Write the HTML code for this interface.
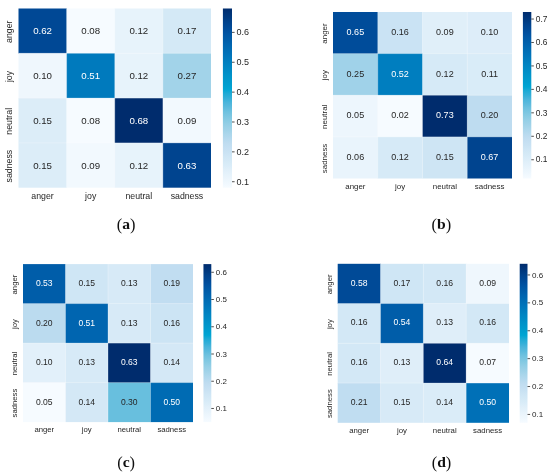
<!DOCTYPE html>
<html><head><meta charset="utf-8"><title>Confusion matrices</title>
<style>html,body{margin:0;padding:0;background:#fff}svg{display:block}.s{font-family:"Liberation Sans",Arial,sans-serif}.c{font-family:"Liberation Serif","Times New Roman",serif}</style></head><body>
<svg width="550" height="474" viewBox="0 0 550 474">
<rect width="550" height="474" fill="#ffffff"/>
<defs>
<linearGradient id="ga" x1="0" y1="0" x2="0" y2="1"><stop offset="0.0000" stop-color="#002c6d"/><stop offset="0.0250" stop-color="#003377"/><stop offset="0.0500" stop-color="#003a80"/><stop offset="0.0750" stop-color="#00428c"/><stop offset="0.1000" stop-color="#004895"/><stop offset="0.1250" stop-color="#004f9e"/><stop offset="0.1500" stop-color="#0057a5"/><stop offset="0.1750" stop-color="#005da9"/><stop offset="0.2000" stop-color="#0064af"/><stop offset="0.2250" stop-color="#006bb3"/><stop offset="0.2500" stop-color="#0071b8"/><stop offset="0.2750" stop-color="#0078bc"/><stop offset="0.3000" stop-color="#007fbf"/><stop offset="0.3250" stop-color="#0086c3"/><stop offset="0.3500" stop-color="#008cc6"/><stop offset="0.3750" stop-color="#0093c9"/><stop offset="0.4000" stop-color="#0099cc"/><stop offset="0.4250" stop-color="#009ecf"/><stop offset="0.4500" stop-color="#00a5d3"/><stop offset="0.4750" stop-color="#1faad5"/><stop offset="0.5000" stop-color="#33afd8"/><stop offset="0.5250" stop-color="#4bb5db"/><stop offset="0.5500" stop-color="#5bbadd"/><stop offset="0.5750" stop-color="#6dc1df"/><stop offset="0.6000" stop-color="#7bc6e1"/><stop offset="0.6250" stop-color="#88cbe3"/><stop offset="0.6500" stop-color="#95cfe6"/><stop offset="0.6750" stop-color="#9fd2e8"/><stop offset="0.7000" stop-color="#aad6eb"/><stop offset="0.7250" stop-color="#b4d9ee"/><stop offset="0.7500" stop-color="#bedcf0"/><stop offset="0.7750" stop-color="#c4dff2"/><stop offset="0.8000" stop-color="#c9e2f3"/><stop offset="0.8250" stop-color="#cfe6f5"/><stop offset="0.8500" stop-color="#d4e9f6"/><stop offset="0.8750" stop-color="#d9ecf8"/><stop offset="0.9000" stop-color="#e0eff9"/><stop offset="0.9250" stop-color="#e5f2fb"/><stop offset="0.9500" stop-color="#ebf5fc"/><stop offset="0.9750" stop-color="#f0f8fe"/><stop offset="1.0000" stop-color="#f6fbff"/></linearGradient>
<linearGradient id="gb" x1="0" y1="0" x2="0" y2="1"><stop offset="0.0000" stop-color="#002c6d"/><stop offset="0.0250" stop-color="#003377"/><stop offset="0.0500" stop-color="#003a80"/><stop offset="0.0750" stop-color="#00428c"/><stop offset="0.1000" stop-color="#004895"/><stop offset="0.1250" stop-color="#004f9e"/><stop offset="0.1500" stop-color="#0057a5"/><stop offset="0.1750" stop-color="#005da9"/><stop offset="0.2000" stop-color="#0064af"/><stop offset="0.2250" stop-color="#006bb3"/><stop offset="0.2500" stop-color="#0071b8"/><stop offset="0.2750" stop-color="#0078bc"/><stop offset="0.3000" stop-color="#007fbf"/><stop offset="0.3250" stop-color="#0086c3"/><stop offset="0.3500" stop-color="#008cc6"/><stop offset="0.3750" stop-color="#0093c9"/><stop offset="0.4000" stop-color="#0099cc"/><stop offset="0.4250" stop-color="#009ecf"/><stop offset="0.4500" stop-color="#00a5d3"/><stop offset="0.4750" stop-color="#1faad5"/><stop offset="0.5000" stop-color="#33afd8"/><stop offset="0.5250" stop-color="#4bb5db"/><stop offset="0.5500" stop-color="#5bbadd"/><stop offset="0.5750" stop-color="#6dc1df"/><stop offset="0.6000" stop-color="#7bc6e1"/><stop offset="0.6250" stop-color="#88cbe3"/><stop offset="0.6500" stop-color="#95cfe6"/><stop offset="0.6750" stop-color="#9fd2e8"/><stop offset="0.7000" stop-color="#aad6eb"/><stop offset="0.7250" stop-color="#b4d9ee"/><stop offset="0.7500" stop-color="#bedcf0"/><stop offset="0.7750" stop-color="#c4dff2"/><stop offset="0.8000" stop-color="#c9e2f3"/><stop offset="0.8250" stop-color="#cfe6f5"/><stop offset="0.8500" stop-color="#d4e9f6"/><stop offset="0.8750" stop-color="#d9ecf8"/><stop offset="0.9000" stop-color="#e0eff9"/><stop offset="0.9250" stop-color="#e5f2fb"/><stop offset="0.9500" stop-color="#ebf5fc"/><stop offset="0.9750" stop-color="#f0f8fe"/><stop offset="1.0000" stop-color="#f6fbff"/></linearGradient>
<linearGradient id="gc" x1="0" y1="0" x2="0" y2="1"><stop offset="0.0000" stop-color="#002c6d"/><stop offset="0.0250" stop-color="#003377"/><stop offset="0.0500" stop-color="#003a80"/><stop offset="0.0750" stop-color="#00428c"/><stop offset="0.1000" stop-color="#004895"/><stop offset="0.1250" stop-color="#004f9e"/><stop offset="0.1500" stop-color="#0057a5"/><stop offset="0.1750" stop-color="#005da9"/><stop offset="0.2000" stop-color="#0064af"/><stop offset="0.2250" stop-color="#006bb3"/><stop offset="0.2500" stop-color="#0071b8"/><stop offset="0.2750" stop-color="#0078bc"/><stop offset="0.3000" stop-color="#007fbf"/><stop offset="0.3250" stop-color="#0086c3"/><stop offset="0.3500" stop-color="#008cc6"/><stop offset="0.3750" stop-color="#0093c9"/><stop offset="0.4000" stop-color="#0099cc"/><stop offset="0.4250" stop-color="#009ecf"/><stop offset="0.4500" stop-color="#00a5d3"/><stop offset="0.4750" stop-color="#1faad5"/><stop offset="0.5000" stop-color="#33afd8"/><stop offset="0.5250" stop-color="#4bb5db"/><stop offset="0.5500" stop-color="#5bbadd"/><stop offset="0.5750" stop-color="#6dc1df"/><stop offset="0.6000" stop-color="#7bc6e1"/><stop offset="0.6250" stop-color="#88cbe3"/><stop offset="0.6500" stop-color="#95cfe6"/><stop offset="0.6750" stop-color="#9fd2e8"/><stop offset="0.7000" stop-color="#aad6eb"/><stop offset="0.7250" stop-color="#b4d9ee"/><stop offset="0.7500" stop-color="#bedcf0"/><stop offset="0.7750" stop-color="#c4dff2"/><stop offset="0.8000" stop-color="#c9e2f3"/><stop offset="0.8250" stop-color="#cfe6f5"/><stop offset="0.8500" stop-color="#d4e9f6"/><stop offset="0.8750" stop-color="#d9ecf8"/><stop offset="0.9000" stop-color="#e0eff9"/><stop offset="0.9250" stop-color="#e5f2fb"/><stop offset="0.9500" stop-color="#ebf5fc"/><stop offset="0.9750" stop-color="#f0f8fe"/><stop offset="1.0000" stop-color="#f6fbff"/></linearGradient>
<linearGradient id="gd" x1="0" y1="0" x2="0" y2="1"><stop offset="0.0000" stop-color="#002c6d"/><stop offset="0.0250" stop-color="#003377"/><stop offset="0.0500" stop-color="#003a80"/><stop offset="0.0750" stop-color="#00428c"/><stop offset="0.1000" stop-color="#004895"/><stop offset="0.1250" stop-color="#004f9e"/><stop offset="0.1500" stop-color="#0057a5"/><stop offset="0.1750" stop-color="#005da9"/><stop offset="0.2000" stop-color="#0064af"/><stop offset="0.2250" stop-color="#006bb3"/><stop offset="0.2500" stop-color="#0071b8"/><stop offset="0.2750" stop-color="#0078bc"/><stop offset="0.3000" stop-color="#007fbf"/><stop offset="0.3250" stop-color="#0086c3"/><stop offset="0.3500" stop-color="#008cc6"/><stop offset="0.3750" stop-color="#0093c9"/><stop offset="0.4000" stop-color="#0099cc"/><stop offset="0.4250" stop-color="#009ecf"/><stop offset="0.4500" stop-color="#00a5d3"/><stop offset="0.4750" stop-color="#1faad5"/><stop offset="0.5000" stop-color="#33afd8"/><stop offset="0.5250" stop-color="#4bb5db"/><stop offset="0.5500" stop-color="#5bbadd"/><stop offset="0.5750" stop-color="#6dc1df"/><stop offset="0.6000" stop-color="#7bc6e1"/><stop offset="0.6250" stop-color="#88cbe3"/><stop offset="0.6500" stop-color="#95cfe6"/><stop offset="0.6750" stop-color="#9fd2e8"/><stop offset="0.7000" stop-color="#aad6eb"/><stop offset="0.7250" stop-color="#b4d9ee"/><stop offset="0.7500" stop-color="#bedcf0"/><stop offset="0.7750" stop-color="#c4dff2"/><stop offset="0.8000" stop-color="#c9e2f3"/><stop offset="0.8250" stop-color="#cfe6f5"/><stop offset="0.8500" stop-color="#d4e9f6"/><stop offset="0.8750" stop-color="#d9ecf8"/><stop offset="0.9000" stop-color="#e0eff9"/><stop offset="0.9250" stop-color="#e5f2fb"/><stop offset="0.9500" stop-color="#ebf5fc"/><stop offset="0.9750" stop-color="#f0f8fe"/><stop offset="1.0000" stop-color="#f6fbff"/></linearGradient>
</defs>
<g class="s">
<rect x="18.50" y="8.50" width="48.42" height="45.10" fill="#004895"/>
<rect x="66.62" y="8.50" width="48.42" height="45.10" fill="#f6fbff"/>
<rect x="114.75" y="8.50" width="48.42" height="45.10" fill="#e7f3fb"/>
<rect x="162.88" y="8.50" width="48.12" height="45.10" fill="#d4e9f6"/>
<rect x="18.50" y="53.30" width="48.42" height="45.10" fill="#eff7fd"/>
<rect x="66.62" y="53.30" width="48.42" height="45.10" fill="#007abd"/>
<rect x="114.75" y="53.30" width="48.42" height="45.10" fill="#e7f3fb"/>
<rect x="162.88" y="53.30" width="48.12" height="45.10" fill="#a2d3e9"/>
<rect x="18.50" y="98.10" width="48.42" height="45.10" fill="#dcedf8"/>
<rect x="66.62" y="98.10" width="48.42" height="45.10" fill="#f6fbff"/>
<rect x="114.75" y="98.10" width="48.42" height="45.10" fill="#002c6d"/>
<rect x="162.88" y="98.10" width="48.12" height="45.10" fill="#f2f9fe"/>
<rect x="18.50" y="142.90" width="48.42" height="44.80" fill="#dcedf8"/>
<rect x="66.62" y="142.90" width="48.42" height="44.80" fill="#f2f9fe"/>
<rect x="114.75" y="142.90" width="48.42" height="44.80" fill="#e7f3fb"/>
<rect x="162.88" y="142.90" width="48.12" height="44.80" fill="#00448f"/>
<text x="42.56" y="34.10" font-size="9.7" text-anchor="middle" fill="#ffffff">0.62</text>
<text x="90.69" y="34.10" font-size="9.7" text-anchor="middle" fill="#262626">0.08</text>
<text x="138.81" y="34.10" font-size="9.7" text-anchor="middle" fill="#262626">0.12</text>
<text x="186.94" y="34.10" font-size="9.7" text-anchor="middle" fill="#262626">0.17</text>
<text x="42.56" y="78.90" font-size="9.7" text-anchor="middle" fill="#262626">0.10</text>
<text x="90.69" y="78.90" font-size="9.7" text-anchor="middle" fill="#ffffff">0.51</text>
<text x="138.81" y="78.90" font-size="9.7" text-anchor="middle" fill="#262626">0.12</text>
<text x="186.94" y="78.90" font-size="9.7" text-anchor="middle" fill="#262626">0.27</text>
<text x="42.56" y="123.70" font-size="9.7" text-anchor="middle" fill="#262626">0.15</text>
<text x="90.69" y="123.70" font-size="9.7" text-anchor="middle" fill="#262626">0.08</text>
<text x="138.81" y="123.70" font-size="9.7" text-anchor="middle" fill="#ffffff">0.68</text>
<text x="186.94" y="123.70" font-size="9.7" text-anchor="middle" fill="#262626">0.09</text>
<text x="42.56" y="168.50" font-size="9.7" text-anchor="middle" fill="#262626">0.15</text>
<text x="90.69" y="168.50" font-size="9.7" text-anchor="middle" fill="#262626">0.09</text>
<text x="138.81" y="168.50" font-size="9.7" text-anchor="middle" fill="#262626">0.12</text>
<text x="186.94" y="168.50" font-size="9.7" text-anchor="middle" fill="#ffffff">0.63</text>
<line x1="66.62" y1="8.50" x2="66.62" y2="187.70" stroke="#fff" stroke-opacity="0.45" stroke-width="0.6"/>
<line x1="18.50" y1="53.30" x2="211.00" y2="53.30" stroke="#fff" stroke-opacity="0.45" stroke-width="0.6"/>
<line x1="114.75" y1="8.50" x2="114.75" y2="187.70" stroke="#fff" stroke-opacity="0.45" stroke-width="0.6"/>
<line x1="18.50" y1="98.10" x2="211.00" y2="98.10" stroke="#fff" stroke-opacity="0.45" stroke-width="0.6"/>
<line x1="162.88" y1="8.50" x2="162.88" y2="187.70" stroke="#fff" stroke-opacity="0.45" stroke-width="0.6"/>
<line x1="18.50" y1="142.90" x2="211.00" y2="142.90" stroke="#fff" stroke-opacity="0.45" stroke-width="0.6"/>
<text x="42.56" y="199.00" font-size="8.75" text-anchor="middle" fill="#262626">anger</text>
<text x="90.69" y="199.00" font-size="8.75" text-anchor="middle" fill="#262626">joy</text>
<text x="138.81" y="199.00" font-size="8.75" text-anchor="middle" fill="#262626">neutral</text>
<text x="186.94" y="199.00" font-size="8.75" text-anchor="middle" fill="#262626">sadness</text>
<text transform="translate(12.00 31.70) rotate(-90)" font-size="8.75" text-anchor="middle" fill="#262626">anger</text>
<text transform="translate(12.00 76.50) rotate(-90)" font-size="8.75" text-anchor="middle" fill="#262626">joy</text>
<text transform="translate(12.00 121.30) rotate(-90)" font-size="8.75" text-anchor="middle" fill="#262626">neutral</text>
<text transform="translate(12.00 166.10) rotate(-90)" font-size="8.75" text-anchor="middle" fill="#262626">sadness</text>
<rect x="222.90" y="8.50" width="9.10" height="179.20" fill="url(#ga)"/>
<line x1="232.00" y1="181.73" x2="234.60" y2="181.73" stroke="#262626" stroke-width="0.8"/>
<text x="236.50" y="184.65" font-size="9.0" fill="#262626">0.1</text>
<line x1="232.00" y1="151.86" x2="234.60" y2="151.86" stroke="#262626" stroke-width="0.8"/>
<text x="236.50" y="154.78" font-size="9.0" fill="#262626">0.2</text>
<line x1="232.00" y1="121.99" x2="234.60" y2="121.99" stroke="#262626" stroke-width="0.8"/>
<text x="236.50" y="124.92" font-size="9.0" fill="#262626">0.3</text>
<line x1="232.00" y1="92.13" x2="234.60" y2="92.13" stroke="#262626" stroke-width="0.8"/>
<text x="236.50" y="95.05" font-size="9.0" fill="#262626">0.4</text>
<line x1="232.00" y1="62.26" x2="234.60" y2="62.26" stroke="#262626" stroke-width="0.8"/>
<text x="236.50" y="65.18" font-size="9.0" fill="#262626">0.5</text>
<line x1="232.00" y1="32.39" x2="234.60" y2="32.39" stroke="#262626" stroke-width="0.8"/>
<text x="236.50" y="35.32" font-size="9.0" fill="#262626">0.6</text>
</g>
<text class="c" x="126.20" y="229.00" font-size="16.4" text-anchor="middle" fill="#111"><tspan dy="0.5">(</tspan><tspan font-weight="bold" font-size="15.6" dy="-0.5">a</tspan><tspan dy="0.5">)</tspan></text>
<g class="s">
<rect x="333.00" y="12.00" width="45.05" height="41.92" fill="#004c9a"/>
<rect x="377.75" y="12.00" width="45.05" height="41.92" fill="#cae3f4"/>
<rect x="422.50" y="12.00" width="45.05" height="41.92" fill="#e0eff9"/>
<rect x="467.25" y="12.00" width="44.75" height="41.92" fill="#ddedf9"/>
<rect x="333.00" y="53.62" width="45.05" height="41.92" fill="#a0d2e9"/>
<rect x="377.75" y="53.62" width="45.05" height="41.92" fill="#007ebf"/>
<rect x="422.50" y="53.62" width="45.05" height="41.92" fill="#d6eaf7"/>
<rect x="467.25" y="53.62" width="44.75" height="41.92" fill="#d9ecf8"/>
<rect x="333.00" y="95.25" width="45.05" height="41.92" fill="#edf6fd"/>
<rect x="377.75" y="95.25" width="45.05" height="41.92" fill="#f6fbff"/>
<rect x="422.50" y="95.25" width="45.05" height="41.92" fill="#002c6d"/>
<rect x="467.25" y="95.25" width="44.75" height="41.92" fill="#bedcf0"/>
<rect x="333.00" y="136.88" width="45.05" height="41.62" fill="#e9f4fc"/>
<rect x="377.75" y="136.88" width="45.05" height="41.62" fill="#d6eaf7"/>
<rect x="422.50" y="136.88" width="45.05" height="41.62" fill="#cee5f4"/>
<rect x="467.25" y="136.88" width="44.75" height="41.62" fill="#00448f"/>
<text x="355.38" y="35.21" font-size="9.02" text-anchor="middle" fill="#ffffff">0.65</text>
<text x="400.12" y="35.21" font-size="9.02" text-anchor="middle" fill="#262626">0.16</text>
<text x="444.88" y="35.21" font-size="9.02" text-anchor="middle" fill="#262626">0.09</text>
<text x="489.62" y="35.21" font-size="9.02" text-anchor="middle" fill="#262626">0.10</text>
<text x="355.38" y="76.84" font-size="9.02" text-anchor="middle" fill="#262626">0.25</text>
<text x="400.12" y="76.84" font-size="9.02" text-anchor="middle" fill="#ffffff">0.52</text>
<text x="444.88" y="76.84" font-size="9.02" text-anchor="middle" fill="#262626">0.12</text>
<text x="489.62" y="76.84" font-size="9.02" text-anchor="middle" fill="#262626">0.11</text>
<text x="355.38" y="118.46" font-size="9.02" text-anchor="middle" fill="#262626">0.05</text>
<text x="400.12" y="118.46" font-size="9.02" text-anchor="middle" fill="#262626">0.02</text>
<text x="444.88" y="118.46" font-size="9.02" text-anchor="middle" fill="#ffffff">0.73</text>
<text x="489.62" y="118.46" font-size="9.02" text-anchor="middle" fill="#262626">0.20</text>
<text x="355.38" y="160.09" font-size="9.02" text-anchor="middle" fill="#262626">0.06</text>
<text x="400.12" y="160.09" font-size="9.02" text-anchor="middle" fill="#262626">0.12</text>
<text x="444.88" y="160.09" font-size="9.02" text-anchor="middle" fill="#262626">0.15</text>
<text x="489.62" y="160.09" font-size="9.02" text-anchor="middle" fill="#ffffff">0.67</text>
<line x1="377.75" y1="12.00" x2="377.75" y2="178.50" stroke="#fff" stroke-opacity="0.45" stroke-width="0.6"/>
<line x1="333.00" y1="53.62" x2="512.00" y2="53.62" stroke="#fff" stroke-opacity="0.45" stroke-width="0.6"/>
<line x1="422.50" y1="12.00" x2="422.50" y2="178.50" stroke="#fff" stroke-opacity="0.45" stroke-width="0.6"/>
<line x1="333.00" y1="95.25" x2="512.00" y2="95.25" stroke="#fff" stroke-opacity="0.45" stroke-width="0.6"/>
<line x1="467.25" y1="12.00" x2="467.25" y2="178.50" stroke="#fff" stroke-opacity="0.45" stroke-width="0.6"/>
<line x1="333.00" y1="136.88" x2="512.00" y2="136.88" stroke="#fff" stroke-opacity="0.45" stroke-width="0.6"/>
<text x="355.38" y="189.41" font-size="7.93" text-anchor="middle" fill="#262626">anger</text>
<text x="400.12" y="189.41" font-size="7.93" text-anchor="middle" fill="#262626">joy</text>
<text x="444.88" y="189.41" font-size="7.93" text-anchor="middle" fill="#262626">neutral</text>
<text x="489.62" y="189.41" font-size="7.93" text-anchor="middle" fill="#262626">sadness</text>
<text transform="translate(326.96 33.56) rotate(-90)" font-size="7.93" text-anchor="middle" fill="#262626">anger</text>
<text transform="translate(326.96 75.18) rotate(-90)" font-size="7.93" text-anchor="middle" fill="#262626">joy</text>
<text transform="translate(326.96 116.81) rotate(-90)" font-size="7.93" text-anchor="middle" fill="#262626">neutral</text>
<text transform="translate(326.96 158.43) rotate(-90)" font-size="7.93" text-anchor="middle" fill="#262626">sadness</text>
<rect x="522.90" y="12.00" width="8.40" height="166.50" fill="url(#gb)"/>
<line x1="531.30" y1="159.74" x2="533.90" y2="159.74" stroke="#262626" stroke-width="0.8"/>
<text x="535.80" y="162.46" font-size="8.37" fill="#262626">0.1</text>
<line x1="531.30" y1="136.29" x2="533.90" y2="136.29" stroke="#262626" stroke-width="0.8"/>
<text x="535.80" y="139.01" font-size="8.37" fill="#262626">0.2</text>
<line x1="531.30" y1="112.84" x2="533.90" y2="112.84" stroke="#262626" stroke-width="0.8"/>
<text x="535.80" y="115.56" font-size="8.37" fill="#262626">0.3</text>
<line x1="531.30" y1="89.39" x2="533.90" y2="89.39" stroke="#262626" stroke-width="0.8"/>
<text x="535.80" y="92.10" font-size="8.37" fill="#262626">0.4</text>
<line x1="531.30" y1="65.94" x2="533.90" y2="65.94" stroke="#262626" stroke-width="0.8"/>
<text x="535.80" y="68.65" font-size="8.37" fill="#262626">0.5</text>
<line x1="531.30" y1="42.49" x2="533.90" y2="42.49" stroke="#262626" stroke-width="0.8"/>
<text x="535.80" y="45.20" font-size="8.37" fill="#262626">0.6</text>
<line x1="531.30" y1="19.04" x2="533.90" y2="19.04" stroke="#262626" stroke-width="0.8"/>
<text x="535.80" y="21.75" font-size="8.37" fill="#262626">0.7</text>
</g>
<text class="c" x="441.40" y="229.30" font-size="16.4" text-anchor="middle" fill="#111"><tspan dy="0.5">(</tspan><tspan font-weight="bold" font-size="15.6" dy="-0.5">b</tspan><tspan dy="0.5">)</tspan></text>
<g class="s">
<rect x="23.00" y="264.10" width="42.80" height="39.80" fill="#005da9"/>
<rect x="65.50" y="264.10" width="42.80" height="39.80" fill="#cfe6f5"/>
<rect x="108.00" y="264.10" width="42.80" height="39.80" fill="#d7eaf7"/>
<rect x="150.50" y="264.10" width="42.50" height="39.80" fill="#c1ddf1"/>
<rect x="23.00" y="303.60" width="42.80" height="39.80" fill="#bbdbef"/>
<rect x="65.50" y="303.60" width="42.80" height="39.80" fill="#0065b0"/>
<rect x="108.00" y="303.60" width="42.80" height="39.80" fill="#d7eaf7"/>
<rect x="150.50" y="303.60" width="42.50" height="39.80" fill="#cce4f4"/>
<rect x="23.00" y="343.10" width="42.80" height="39.80" fill="#e2f0fa"/>
<rect x="65.50" y="343.10" width="42.80" height="39.80" fill="#d7eaf7"/>
<rect x="108.00" y="343.10" width="42.80" height="39.80" fill="#002c6d"/>
<rect x="150.50" y="343.10" width="42.50" height="39.80" fill="#d4e8f6"/>
<rect x="23.00" y="382.60" width="42.80" height="39.50" fill="#f6fbff"/>
<rect x="65.50" y="382.60" width="42.80" height="39.50" fill="#d4e8f6"/>
<rect x="108.00" y="382.60" width="42.80" height="39.50" fill="#68bfde"/>
<rect x="150.50" y="382.60" width="42.50" height="39.50" fill="#006bb3"/>
<text x="44.25" y="286.05" font-size="8.57" text-anchor="middle" fill="#ffffff">0.53</text>
<text x="86.75" y="286.05" font-size="8.57" text-anchor="middle" fill="#262626">0.15</text>
<text x="129.25" y="286.05" font-size="8.57" text-anchor="middle" fill="#262626">0.13</text>
<text x="171.75" y="286.05" font-size="8.57" text-anchor="middle" fill="#262626">0.19</text>
<text x="44.25" y="325.55" font-size="8.57" text-anchor="middle" fill="#262626">0.20</text>
<text x="86.75" y="325.55" font-size="8.57" text-anchor="middle" fill="#ffffff">0.51</text>
<text x="129.25" y="325.55" font-size="8.57" text-anchor="middle" fill="#262626">0.13</text>
<text x="171.75" y="325.55" font-size="8.57" text-anchor="middle" fill="#262626">0.16</text>
<text x="44.25" y="365.05" font-size="8.57" text-anchor="middle" fill="#262626">0.10</text>
<text x="86.75" y="365.05" font-size="8.57" text-anchor="middle" fill="#262626">0.13</text>
<text x="129.25" y="365.05" font-size="8.57" text-anchor="middle" fill="#ffffff">0.63</text>
<text x="171.75" y="365.05" font-size="8.57" text-anchor="middle" fill="#262626">0.14</text>
<text x="44.25" y="404.55" font-size="8.57" text-anchor="middle" fill="#262626">0.05</text>
<text x="86.75" y="404.55" font-size="8.57" text-anchor="middle" fill="#262626">0.14</text>
<text x="129.25" y="404.55" font-size="8.57" text-anchor="middle" fill="#262626">0.30</text>
<text x="171.75" y="404.55" font-size="8.57" text-anchor="middle" fill="#ffffff">0.50</text>
<line x1="65.50" y1="264.10" x2="65.50" y2="422.10" stroke="#fff" stroke-opacity="0.45" stroke-width="0.6"/>
<line x1="23.00" y1="303.60" x2="193.00" y2="303.60" stroke="#fff" stroke-opacity="0.45" stroke-width="0.6"/>
<line x1="108.00" y1="264.10" x2="108.00" y2="422.10" stroke="#fff" stroke-opacity="0.45" stroke-width="0.6"/>
<line x1="23.00" y1="343.10" x2="193.00" y2="343.10" stroke="#fff" stroke-opacity="0.45" stroke-width="0.6"/>
<line x1="150.50" y1="264.10" x2="150.50" y2="422.10" stroke="#fff" stroke-opacity="0.45" stroke-width="0.6"/>
<line x1="23.00" y1="382.60" x2="193.00" y2="382.60" stroke="#fff" stroke-opacity="0.45" stroke-width="0.6"/>
<text x="44.25" y="432.08" font-size="7.73" text-anchor="middle" fill="#262626">anger</text>
<text x="86.75" y="432.08" font-size="7.73" text-anchor="middle" fill="#262626">joy</text>
<text x="129.25" y="432.08" font-size="7.73" text-anchor="middle" fill="#262626">neutral</text>
<text x="171.75" y="432.08" font-size="7.73" text-anchor="middle" fill="#262626">sadness</text>
<text transform="translate(17.26 284.56) rotate(-90)" font-size="7.73" text-anchor="middle" fill="#262626">anger</text>
<text transform="translate(17.26 324.06) rotate(-90)" font-size="7.73" text-anchor="middle" fill="#262626">joy</text>
<text transform="translate(17.26 363.56) rotate(-90)" font-size="7.73" text-anchor="middle" fill="#262626">neutral</text>
<text transform="translate(17.26 403.06) rotate(-90)" font-size="7.73" text-anchor="middle" fill="#262626">sadness</text>
<rect x="203.45" y="264.10" width="7.85" height="158.00" fill="url(#gc)"/>
<line x1="211.30" y1="408.48" x2="213.90" y2="408.48" stroke="#262626" stroke-width="0.8"/>
<text x="215.80" y="411.06" font-size="7.95" fill="#262626">0.1</text>
<line x1="211.30" y1="381.24" x2="213.90" y2="381.24" stroke="#262626" stroke-width="0.8"/>
<text x="215.80" y="383.82" font-size="7.95" fill="#262626">0.2</text>
<line x1="211.30" y1="354.00" x2="213.90" y2="354.00" stroke="#262626" stroke-width="0.8"/>
<text x="215.80" y="356.58" font-size="7.95" fill="#262626">0.3</text>
<line x1="211.30" y1="326.76" x2="213.90" y2="326.76" stroke="#262626" stroke-width="0.8"/>
<text x="215.80" y="329.34" font-size="7.95" fill="#262626">0.4</text>
<line x1="211.30" y1="299.51" x2="213.90" y2="299.51" stroke="#262626" stroke-width="0.8"/>
<text x="215.80" y="302.09" font-size="7.95" fill="#262626">0.5</text>
<line x1="211.30" y1="272.27" x2="213.90" y2="272.27" stroke="#262626" stroke-width="0.8"/>
<text x="215.80" y="274.85" font-size="7.95" fill="#262626">0.6</text>
</g>
<text class="c" x="126.10" y="467.00" font-size="16.4" text-anchor="middle" fill="#111"><tspan dy="0.5">(</tspan><tspan font-weight="bold" font-size="15.6" dy="-0.5">c</tspan><tspan dy="0.5">)</tspan></text>
<g class="s">
<rect x="337.70" y="263.80" width="43.12" height="40.05" fill="#004a97"/>
<rect x="380.52" y="263.80" width="43.12" height="40.05" fill="#cfe6f5"/>
<rect x="423.35" y="263.80" width="43.12" height="40.05" fill="#d3e8f6"/>
<rect x="466.18" y="263.80" width="42.83" height="40.05" fill="#eff7fd"/>
<rect x="337.70" y="303.55" width="43.12" height="40.05" fill="#d3e8f6"/>
<rect x="380.52" y="303.55" width="43.12" height="40.05" fill="#005da9"/>
<rect x="423.35" y="303.55" width="43.12" height="40.05" fill="#dfeef9"/>
<rect x="466.18" y="303.55" width="42.83" height="40.05" fill="#d3e8f6"/>
<rect x="337.70" y="343.30" width="43.12" height="40.05" fill="#d3e8f6"/>
<rect x="380.52" y="343.30" width="43.12" height="40.05" fill="#dfeef9"/>
<rect x="423.35" y="343.30" width="43.12" height="40.05" fill="#002c6d"/>
<rect x="466.18" y="343.30" width="42.83" height="40.05" fill="#f6fbff"/>
<rect x="337.70" y="383.05" width="43.12" height="39.75" fill="#c0ddf1"/>
<rect x="380.52" y="383.05" width="43.12" height="39.75" fill="#d7eaf7"/>
<rect x="423.35" y="383.05" width="43.12" height="39.75" fill="#daecf8"/>
<rect x="466.18" y="383.05" width="42.83" height="39.75" fill="#0070b7"/>
<text x="359.11" y="285.68" font-size="8.63" text-anchor="middle" fill="#ffffff">0.58</text>
<text x="401.94" y="285.68" font-size="8.63" text-anchor="middle" fill="#262626">0.17</text>
<text x="444.76" y="285.68" font-size="8.63" text-anchor="middle" fill="#262626">0.16</text>
<text x="487.59" y="285.68" font-size="8.63" text-anchor="middle" fill="#262626">0.09</text>
<text x="359.11" y="325.43" font-size="8.63" text-anchor="middle" fill="#262626">0.16</text>
<text x="401.94" y="325.43" font-size="8.63" text-anchor="middle" fill="#ffffff">0.54</text>
<text x="444.76" y="325.43" font-size="8.63" text-anchor="middle" fill="#262626">0.13</text>
<text x="487.59" y="325.43" font-size="8.63" text-anchor="middle" fill="#262626">0.16</text>
<text x="359.11" y="365.18" font-size="8.63" text-anchor="middle" fill="#262626">0.16</text>
<text x="401.94" y="365.18" font-size="8.63" text-anchor="middle" fill="#262626">0.13</text>
<text x="444.76" y="365.18" font-size="8.63" text-anchor="middle" fill="#ffffff">0.64</text>
<text x="487.59" y="365.18" font-size="8.63" text-anchor="middle" fill="#262626">0.07</text>
<text x="359.11" y="404.93" font-size="8.63" text-anchor="middle" fill="#262626">0.21</text>
<text x="401.94" y="404.93" font-size="8.63" text-anchor="middle" fill="#262626">0.15</text>
<text x="444.76" y="404.93" font-size="8.63" text-anchor="middle" fill="#262626">0.14</text>
<text x="487.59" y="404.93" font-size="8.63" text-anchor="middle" fill="#ffffff">0.50</text>
<line x1="380.52" y1="263.80" x2="380.52" y2="422.80" stroke="#fff" stroke-opacity="0.45" stroke-width="0.6"/>
<line x1="337.70" y1="303.55" x2="509.00" y2="303.55" stroke="#fff" stroke-opacity="0.45" stroke-width="0.6"/>
<line x1="423.35" y1="263.80" x2="423.35" y2="422.80" stroke="#fff" stroke-opacity="0.45" stroke-width="0.6"/>
<line x1="337.70" y1="343.30" x2="509.00" y2="343.30" stroke="#fff" stroke-opacity="0.45" stroke-width="0.6"/>
<line x1="466.18" y1="263.80" x2="466.18" y2="422.80" stroke="#fff" stroke-opacity="0.45" stroke-width="0.6"/>
<line x1="337.70" y1="383.05" x2="509.00" y2="383.05" stroke="#fff" stroke-opacity="0.45" stroke-width="0.6"/>
<text x="359.11" y="432.86" font-size="7.79" text-anchor="middle" fill="#262626">anger</text>
<text x="401.94" y="432.86" font-size="7.79" text-anchor="middle" fill="#262626">joy</text>
<text x="444.76" y="432.86" font-size="7.79" text-anchor="middle" fill="#262626">neutral</text>
<text x="487.59" y="432.86" font-size="7.79" text-anchor="middle" fill="#262626">sadness</text>
<text transform="translate(331.92 284.39) rotate(-90)" font-size="7.79" text-anchor="middle" fill="#262626">anger</text>
<text transform="translate(331.92 324.14) rotate(-90)" font-size="7.79" text-anchor="middle" fill="#262626">joy</text>
<text transform="translate(331.92 363.89) rotate(-90)" font-size="7.79" text-anchor="middle" fill="#262626">neutral</text>
<text transform="translate(331.92 403.64) rotate(-90)" font-size="7.79" text-anchor="middle" fill="#262626">sadness</text>
<rect x="519.70" y="263.80" width="7.80" height="159.00" fill="url(#gd)"/>
<line x1="527.50" y1="414.43" x2="530.10" y2="414.43" stroke="#262626" stroke-width="0.8"/>
<text x="532.00" y="417.03" font-size="8.01" fill="#262626">0.1</text>
<line x1="527.50" y1="386.54" x2="530.10" y2="386.54" stroke="#262626" stroke-width="0.8"/>
<text x="532.00" y="389.14" font-size="8.01" fill="#262626">0.2</text>
<line x1="527.50" y1="358.64" x2="530.10" y2="358.64" stroke="#262626" stroke-width="0.8"/>
<text x="532.00" y="361.24" font-size="8.01" fill="#262626">0.3</text>
<line x1="527.50" y1="330.75" x2="530.10" y2="330.75" stroke="#262626" stroke-width="0.8"/>
<text x="532.00" y="333.35" font-size="8.01" fill="#262626">0.4</text>
<line x1="527.50" y1="302.85" x2="530.10" y2="302.85" stroke="#262626" stroke-width="0.8"/>
<text x="532.00" y="305.45" font-size="8.01" fill="#262626">0.5</text>
<line x1="527.50" y1="274.96" x2="530.10" y2="274.96" stroke="#262626" stroke-width="0.8"/>
<text x="532.00" y="277.56" font-size="8.01" fill="#262626">0.6</text>
</g>
<text class="c" x="441.50" y="467.00" font-size="16.4" text-anchor="middle" fill="#111"><tspan dy="0.5">(</tspan><tspan font-weight="bold" font-size="15.6" dy="-0.5">d</tspan><tspan dy="0.5">)</tspan></text>
</svg></body></html>
